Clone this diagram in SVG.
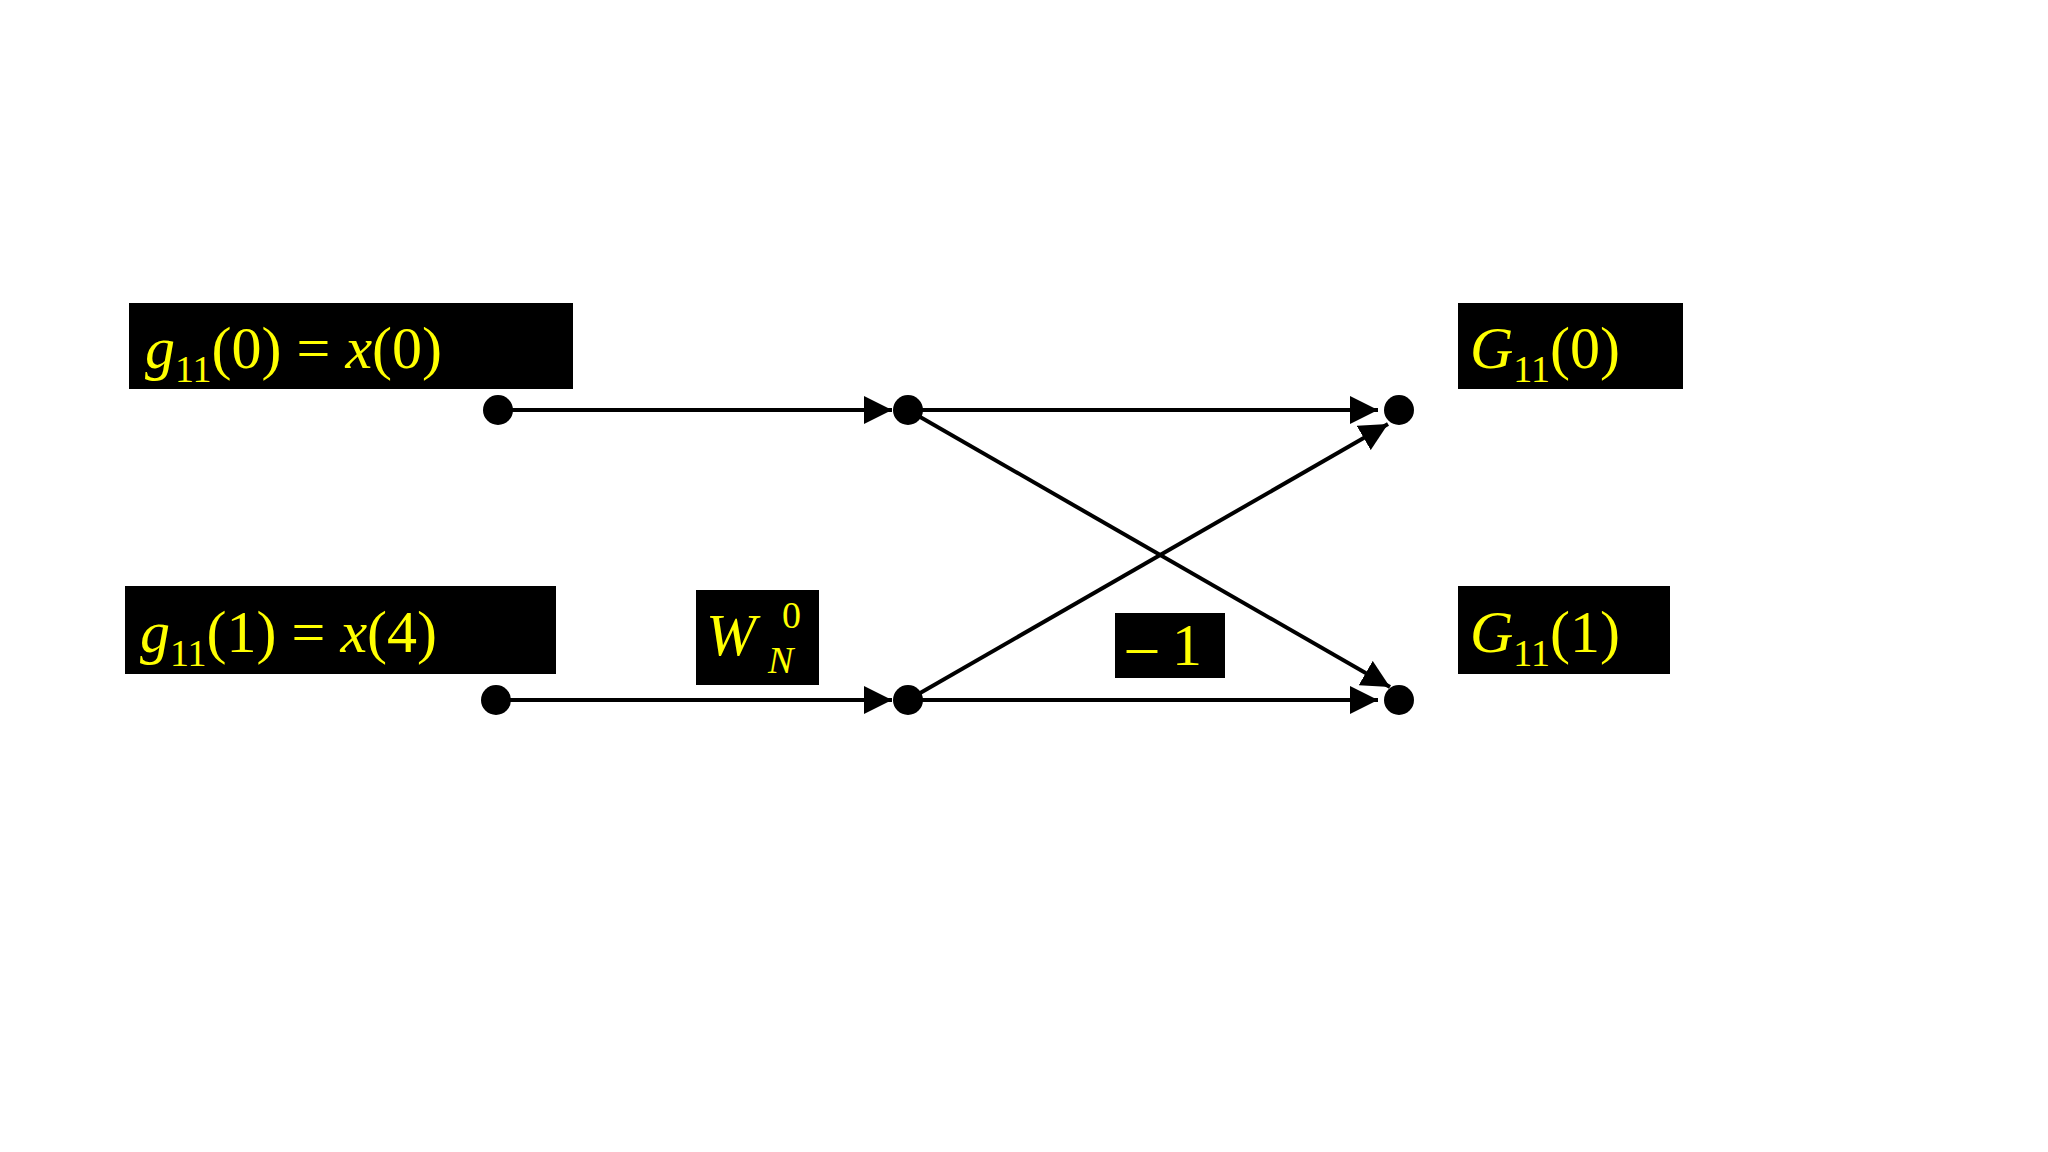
<svg xmlns="http://www.w3.org/2000/svg" width="2048" height="1152" viewBox="0 0 2048 1152">
<style>
.bx{fill:#000}
.t{font-family:"Liberation Serif",serif;font-size:60px;fill:#ffff00}
.i{font-style:italic}
.s{font-size:38px}
.n{fill:#000}
.e{stroke:#000;stroke-width:4;fill:none;marker-end:url(#a)}
</style>
<defs>
<marker id="a" viewBox="0 0 10 10" refX="10" refY="5" markerWidth="7" markerHeight="7" markerUnits="strokeWidth" orient="auto"><path d="M0,0L10,5L0,10z" fill="#000"/></marker>
</defs>
<rect width="2048" height="1152" fill="#fff"/>
<g id="connectors">
<line class="e" x1="498" y1="410" x2="892" y2="410"/>
<line class="e" x1="908" y1="410" x2="1378" y2="410"/>
<line class="e" x1="496" y1="700" x2="892" y2="700"/>
<line class="e" x1="908" y1="700" x2="1378" y2="700"/>
<line class="e" x1="908" y1="410" x2="1390" y2="687"/>
<line class="e" x1="908" y1="700" x2="1388" y2="424"/>
</g>
<g id="n1"><circle class="n" cx="498" cy="410" r="15"/></g>
<g id="n2"><circle class="n" cx="908" cy="410" r="15"/></g>
<g id="n3"><circle class="n" cx="1399" cy="410" r="15"/></g>
<g id="n4"><circle class="n" cx="496" cy="700" r="15"/></g>
<g id="n5"><circle class="n" cx="908" cy="700" r="15"/></g>
<g id="n6"><circle class="n" cx="1399" cy="700" r="15"/></g>
<g id="l1"><rect class="bx" x="129" y="303" width="444" height="86"/>
<text class="t" x="145" y="368"><tspan class="i">g</tspan><tspan class="s" dy="14">11</tspan><tspan dy="-14">(0) = </tspan><tspan class="i">x</tspan>(0)</text></g>
<g id="l2"><rect class="bx" x="125" y="586" width="431" height="88"/>
<text class="t" x="140" y="652"><tspan class="i">g</tspan><tspan class="s" dy="14">11</tspan><tspan dy="-14">(1) = </tspan><tspan class="i">x</tspan>(4)</text></g>
<g id="l3"><rect class="bx" x="696" y="590" width="123" height="95"/>
<text class="t i" x="706" y="655">W</text><text class="t s" x="782" y="628">0</text><text class="t s i" x="768" y="673">N</text></g>
<g id="l4"><rect class="bx" x="1115" y="613" width="110" height="65"/>
<text class="t" x="1127" y="665">– 1</text></g>
<g id="l5"><rect class="bx" x="1458" y="303" width="225" height="86"/>
<text class="t" x="1470" y="368"><tspan class="i">G</tspan><tspan class="s" dy="14">11</tspan><tspan dy="-14">(0)</tspan></text></g>
<g id="l6"><rect class="bx" x="1458" y="586" width="212" height="88"/>
<text class="t" x="1470" y="652"><tspan class="i">G</tspan><tspan class="s" dy="14">11</tspan><tspan dy="-14">(1)</tspan></text></g>
</svg>
